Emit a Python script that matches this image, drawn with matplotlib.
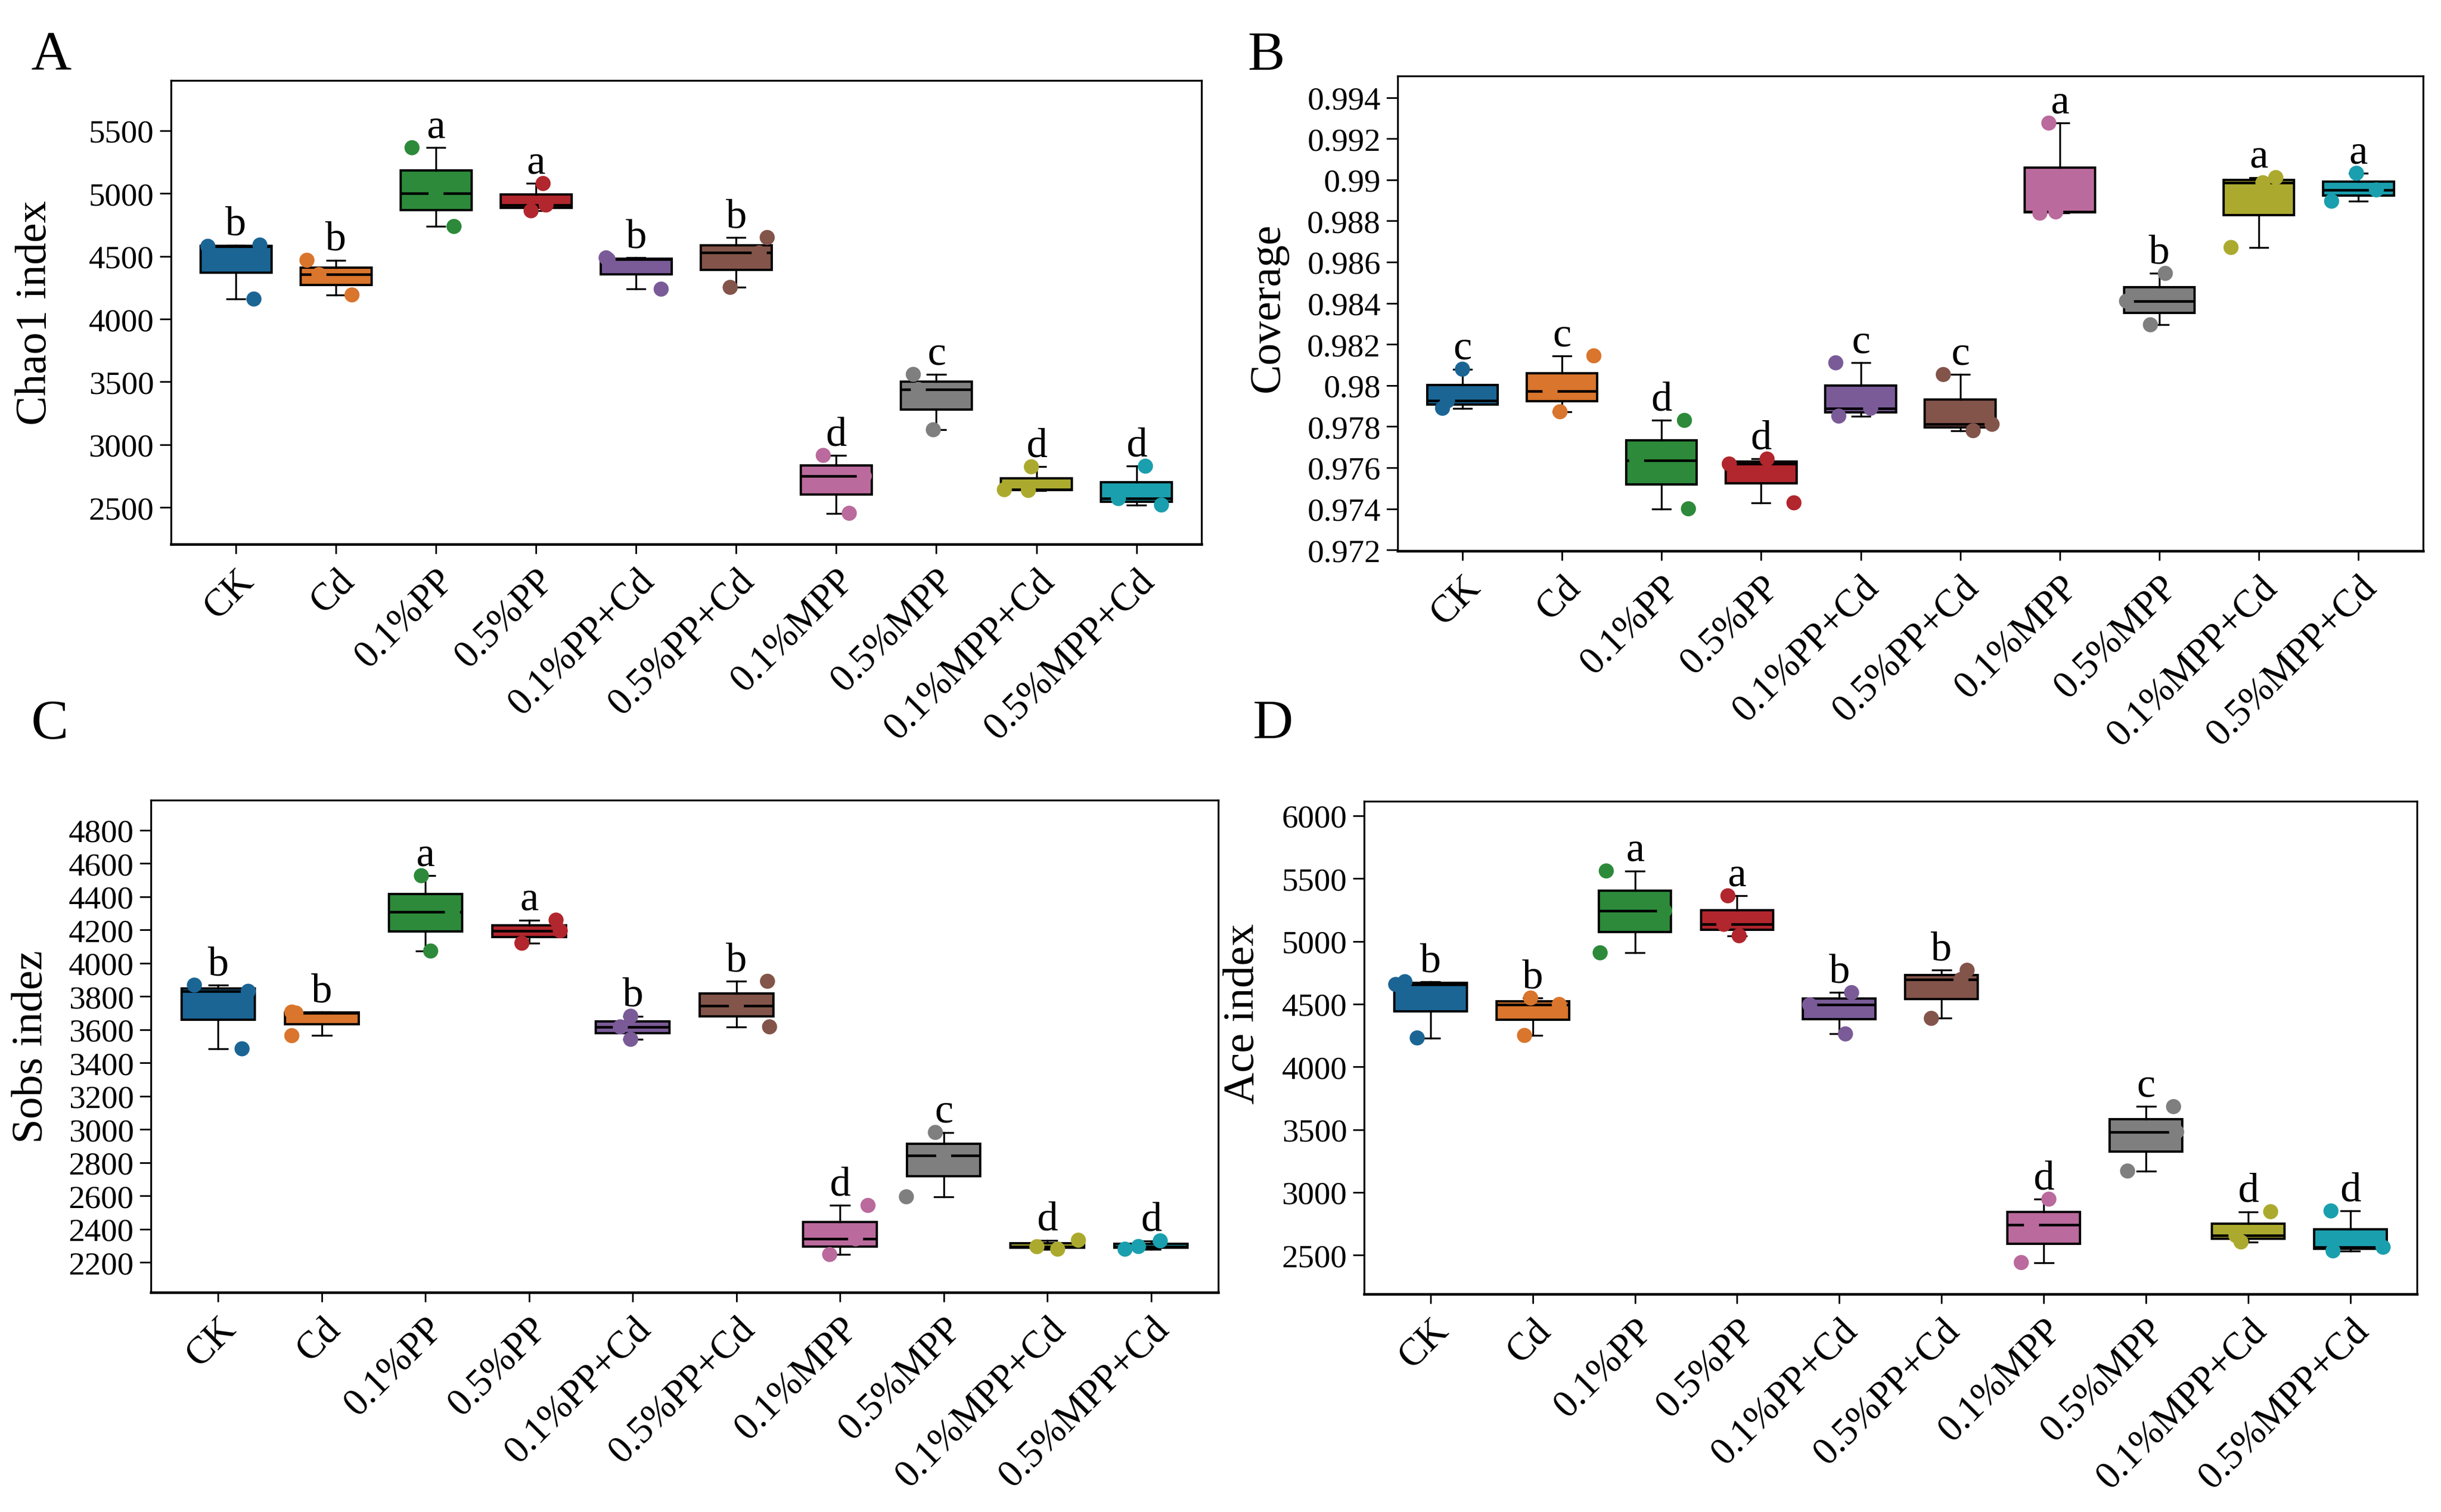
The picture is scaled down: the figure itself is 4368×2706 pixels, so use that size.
import matplotlib

matplotlib.use("Agg")
import matplotlib.pyplot as plt  # noqa: E402
from matplotlib.ticker import FixedLocator, FuncFormatter  # noqa: E402

plt.rcParams["font.family"] = ["Liberation Serif", "DejaVu Serif"]

GROUPS = [
    "CK", "Cd", "0.1%PP", "0.5%PP", "0.1%PP+Cd",
    "0.5%PP+Cd", "0.1%MPP", "0.5%MPP", "0.1%MPP+Cd", "0.5%MPP+Cd",
]
COLORS = [
    "#1b6595", "#d9752c", "#2d8a3a", "#b2262d", "#7a5b98",
    "#83544a", "#ba6a9c", "#7f7f7f", "#acaa2e", "#1a9fae",
]

# three replicates per group: (low, mid, high)
CHAO1 = [
    [4160, 4580, 4590], [4193, 4355, 4469], [4738, 5000, 5365],
    [4863, 4909, 5080], [4239, 4475, 4488], [4253, 4528, 4650],
    [2454, 2750, 2915], [3119, 3440, 3560], [2636, 2642, 2824],
    [2520, 2571, 2829],
]
COVERAGE = [
    [0.97889, 0.97925, 0.98079], [0.97872, 0.97972, 0.98144],
    [0.97400, 0.97635, 0.97830], [0.97429, 0.97618, 0.97642],
    [0.97851, 0.97889, 0.98110], [0.97780, 0.97811, 0.98053],
    [0.98838, 0.98844, 0.99276], [0.98295, 0.98410, 0.98545],
    [0.98671, 0.98986, 0.99011], [0.98896, 0.98951, 0.99032],
]
SOBS = [
    [3485, 3831, 3868], [3564, 3700, 3706], [4073, 4308, 4526],
    [4120, 4195, 4259], [3542, 3617, 3681], [3617, 3743, 3891],
    [2248, 2342, 2543], [2595, 2843, 2982], [2280, 2295, 2334],
    [2280, 2296, 2330],
]
ACE = [
    [4230, 4656, 4678], [4250, 4497, 4548], [4908, 5243, 5560],
    [5044, 5135, 5362], [4262, 4494, 4591], [4386, 4695, 4769],
    [2441, 2741, 2946], [3170, 3482, 3683], [2605, 2656, 2846],
    [2534, 2563, 2852],
]

LETTERS_A = ["b", "b", "a", "a", "b", "b", "d", "c", "d", "d"]
LETTERS_B = ["c", "c", "d", "d", "c", "c", "a", "b", "a", "a"]
LETTERS_C = ["b", "b", "a", "a", "b", "b", "d", "c", "d", "d"]
LETTERS_D = ["b", "b", "a", "a", "b", "b", "d", "c", "d", "d"]

# horizontal jitter of the dots (category units), same order as the data
JITTER_A = [
    (0.18, -0.28, 0.24), (0.16, -0.17, -0.29), (0.18, 0.0, -0.24),
    (-0.05, 0.10, 0.07), (0.25, -0.28, -0.30), (-0.06, 0.23, 0.31),
    (0.13, 0.28, -0.13), (-0.03, -0.18, -0.23), (-0.08, -0.32, -0.05),
    (0.25, -0.18, 0.09),
]
JITTER_B = [
    (-0.20, -0.15, 0.0), (-0.02, -0.12, 0.32), (0.27, -0.25, 0.23),
    (0.33, -0.32, 0.06), (-0.22, 0.10, -0.25), (0.13, 0.32, -0.17),
    (-0.20, -0.04, -0.11), (-0.09, -0.33, 0.06), (-0.28, 0.04, 0.17),
    (-0.27, 0.18, -0.02),
]
JITTER_C = [
    (0.23, 0.29, -0.23), (-0.29, -0.25, -0.29), (0.05, 0.26, -0.04),
    (-0.07, 0.30, 0.26), (-0.02, -0.12, -0.02), (0.32, 0.0, 0.30),
    (-0.10, 0.15, 0.27), (-0.36, 0.0, -0.08), (0.10, -0.10, 0.30),
    (-0.25, -0.12, 0.09),
]
JITTER_D = [
    (-0.13, -0.34, -0.25), (-0.08, 0.26, -0.02), (-0.34, 0.29, -0.28),
    (0.02, -0.13, -0.09), (0.06, -0.29, 0.12), (-0.10, 0.19, 0.25),
    (-0.22, -0.12, 0.05), (-0.18, 0.30, 0.27), (-0.07, -0.12, 0.22),
    (-0.17, 0.32, -0.19),
]


def fmt_coverage(value, _pos):
    return f"{value:.3f}".rstrip("0")


def draw_panel(ax, data, jitter, letters, ylabel, ylim, yticks, label_x,
               label_y=0.5, formatter=None):
    positions = list(range(len(GROUPS)))
    bp = ax.boxplot(
        data,
        positions=positions,
        widths=0.71,
        whis=(0, 100),
        patch_artist=True,
        showfliers=False,
        capwidths=0.18,
        medianprops={"color": "black", "linewidth": 1.1},
        boxprops={"edgecolor": "black", "linewidth": 1.0},
        whiskerprops={"color": "black", "linewidth": 0.8},
        capprops={"color": "black", "linewidth": 0.8},
    )
    for patch, color in zip(bp["boxes"], COLORS):
        patch.set_facecolor(color)
    for pos, values, offsets, color, letter in zip(
        positions, data, jitter, COLORS, letters
    ):
        ax.scatter(
            [pos + off for off in offsets], values, s=42, color=color,
            edgecolors="none", zorder=4,
        )
        ax.annotate(
            letter, (pos, max(values)), xytext=(0, 4.5),
            textcoords="offset points", ha="center", va="baseline",
            fontsize=18,
        )
    ax.set_xlim(-0.65, len(GROUPS) - 0.35)
    ax.set_ylim(*ylim)
    ax.yaxis.set_major_locator(FixedLocator(yticks))
    if formatter is not None:
        ax.yaxis.set_major_formatter(FuncFormatter(formatter))
    ax.set_xticks(positions)
    ax.set_xticklabels(
        GROUPS, rotation=45, ha="right", va="top", rotation_mode="anchor",
        fontsize=16.5,
    )
    ax.tick_params(axis="y", labelsize=14, length=4.8, width=0.7, pad=2.5)
    ax.tick_params(axis="x", length=4.0, width=0.7, pad=4)
    for spine in ax.spines.values():
        spine.set_linewidth(0.8)
    ax.spines["bottom"].set_linewidth(1.1)
    ax.set_ylabel(ylabel, fontsize=19)
    ax.yaxis.set_label_coords(label_x, label_y)


fig = plt.figure(figsize=(14.56, 9.0233), dpi=300)

ax_a = fig.add_axes([0.0700, 0.6398, 0.4222, 0.3066])
ax_b = fig.add_axes([0.5726, 0.6354, 0.4201, 0.3140])
ax_c = fig.add_axes([0.0618, 0.1452, 0.4373, 0.3254])
ax_d = fig.add_axes([0.5588, 0.1441, 0.4313, 0.3258])

draw_panel(ax_a, CHAO1, JITTER_A, LETTERS_A, "Chao1 index",
           (2207, 5900), [2500, 3000, 3500, 4000, 4500, 5000, 5500], -0.112)
draw_panel(ax_b, COVERAGE, JITTER_B, LETTERS_B, "Coverage",
           (0.97195, 0.99505),
           [0.972 + 0.002 * i for i in range(12)], -0.107,
           label_y=0.514, formatter=fmt_coverage)
draw_panel(ax_c, SOBS, JITTER_C, LETTERS_C, "Sobs indez",
           (2020, 4980), list(range(2200, 4801, 200)), -0.093)
draw_panel(ax_d, ACE, JITTER_D, LETTERS_D, "Ace index",
           (2190, 6115), [2500, 3000, 3500, 4000, 4500, 5000, 5500, 6000],
           -0.096, label_y=0.57)

fig.text(0.0128, 0.954, "A", fontsize=24, ha="left", va="baseline")
fig.text(0.511, 0.954, "B", fontsize=24, ha="left", va="baseline")
fig.text(0.0128, 0.512, "C", fontsize=24, ha="left", va="baseline")
fig.text(0.513, 0.512, "D", fontsize=24, ha="left", va="baseline")

fig.savefig("out.png", dpi=300)
plt.close(fig)
